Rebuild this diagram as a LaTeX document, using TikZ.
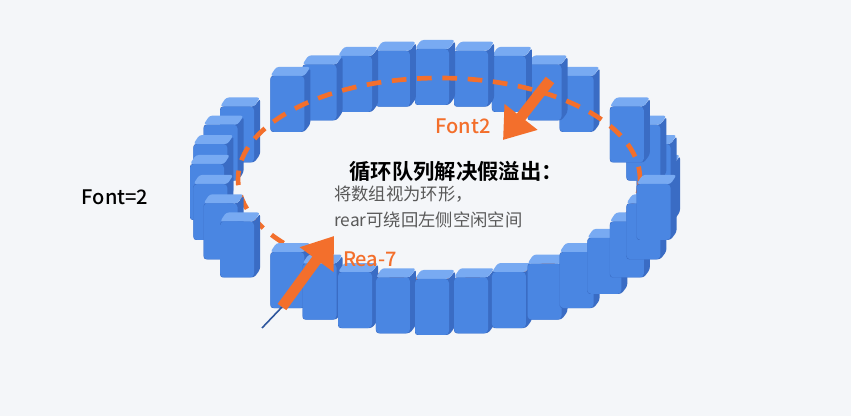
\documentclass[tikz,border=0pt]{standalone}
\usepackage{fontspec}
\setmainfont{Noto Sans CJK SC}
\newfontfamily\cjkb{Noto Sans CJK SC Bold}
\newfontfamily\cjkm{Noto Sans CJK SC Medium}
\usetikzlibrary{arrows.meta}
\definecolor{bfront}{HTML}{4A86E2}
\definecolor{btop}{HTML}{78AAF2}
\definecolor{bside}{HTML}{3A6CC4}
\definecolor{orng}{HTML}{F36F2C}
\definecolor{bg}{HTML}{F4F6F9}
\tikzset{
  blk/.pic={
    \fill[bside,rounded corners=2pt] (-17,-22) -- (17,-22) -- (23,-30) -- (23,26) -- (17,34) -- (-17,34) -- cycle;
    \fill[btop,rounded corners=2pt] (-17,-22) -- (-11,-31) -- (23,-31) -- (17,-22) -- cycle;
    \fill[bfront,rounded corners=3pt] (-17,-22) rectangle (17,34);
  },
  lbl/.style={font=\cjkm\fontsize{15}{17}\selectfont, inner sep=0pt},
  bigarr/.style={orng, line width=8pt, -{Triangle[length=22pt,width=30pt]}}
}
\begin{document}
\begin{tikzpicture}[x=0.75pt,y=-0.75pt]
\fill[bg] (0,0) rectangle (851,416);
\useasboundingbox (0,0) rectangle (851,416);
% back half
\foreach \a in {0,10,20,30,50,60,...,130,150,160,170,180} {
  \pic at ({432+225*cos(\a)},{186-115*sin(\a)}) {blk};
}
% dashed ellipse
\coordinate (ec) at (439,179);
\draw[orng, line width=3.5pt, dash pattern=on 11pt off 8pt] (ec) ellipse [x radius=201, y radius=101];
% front half
\foreach \a in {190,200,210,230,240,...,350} {
  \pic at ({432+225*cos(\a)},{186-115*sin(\a)}) {blk};
}
% arrows
\coordinate (fa1) at (550,80);
\coordinate (fa2) at (503,140);
\draw[bigarr] (fa1) -- (fa2);
\coordinate (ra0) at (262,328);
\coordinate (ra1) at (282,307);
\coordinate (ra2) at (334,236);
\draw[bside!80!black, line width=1.2pt] (ra0) -- (ra1);
\draw[bigarr] (ra1) -- (ra2);
% texts
\node[lbl, text=orng] (font2) at (463,126) {Font2};
\node[lbl, text=orng] (rea) at (370,259) {Rea-7};
\node[lbl, text=black] (fonteq) at (115,197) {Font=2};
\node[inner sep=0pt, font=\cjkb\fontsize{16}{18}\selectfont] (title) at (456,172) {循环队列解决假溢出：};
\node[inner sep=0pt, anchor=north west, align=left, text=black!65, font=\fontsize{13}{19}\selectfont] (sub) at (334,186) {将数组视为环形，\\rear可绕回左侧空闲空间};
\end{tikzpicture}
\end{document}
